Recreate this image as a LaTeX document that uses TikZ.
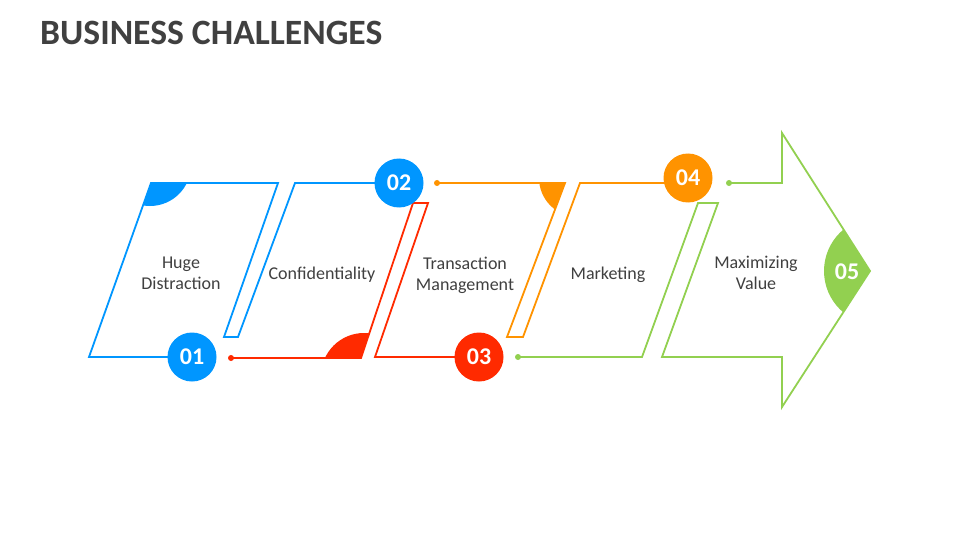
\documentclass[tikz,border=0pt]{standalone}
\usepackage{fontspec}
\setmainfont{Carlito}
\definecolor{cblue}{HTML}{0096FF}
\definecolor{cred}{HTML}{FF2A00}
\definecolor{corange}{HTML}{FF9300}
\definecolor{cgreen}{HTML}{92D050}
\definecolor{ctext}{HTML}{404040}
\tikzset{
  outline/.style={line width=1.8pt, line join=miter},
  numc/.style={circle, minimum size=49pt, inner sep=0pt, text=white,
    font=\fontsize{24}{24}\selectfont\bfseries},
  label/.style={text=ctext, align=center, font=\fontsize{18}{21}\selectfont},
  dotc/.style={circle, inner sep=0pt, minimum size=6pt}
}
\begin{document}
\begin{tikzpicture}[x=1pt,y=-1pt]
\useasboundingbox (0,0) rectangle (960,540);
\fill[white] (0,0) rectangle (960,540);

% title
\node[anchor=base west, text=ctext, inner sep=0pt,
  font=\fontsize{35.6}{42}\selectfont\bfseries] (title) at (40,45) {BUSINESS CHALLENGES};

% corner fills
\begin{scope}
  \clip (151,183) -- (260,183) -- (260,260) -- (123.6,260) -- cycle;
  \fill[cblue] (150,165) circle (41);
\end{scope}
\begin{scope}
  \clip (361,358) -- (413,203) -- (290,203) -- (290,358) -- cycle;
  \fill[cred] (364,376) circle (43);
\end{scope}
\begin{scope}
  \clip (565,183) -- (507,337) -- (480,337) -- (480,183) -- cycle;
  \fill[corange] (578,178) circle (39);
\end{scope}
\begin{scope}
  \clip (782,133) -- (870,271) -- (782,407) -- cycle;
  \fill[cgreen] (878,271) circle (54);
\end{scope}

% anchor coordinates for connectors
\coordinate (b1) at (192,357);
\coordinate (b2) at (399,183);
\coordinate (r3) at (479,357);
\coordinate (o4) at (670,183);

% dots
\node[dotc, fill=cred] (dr) at (231,358) {};
\node[dotc, fill=corange] (do) at (437,183) {};
\node[dotc, fill=cgreen] (dg1) at (518,357) {};
\node[dotc, fill=cgreen] (dg2) at (729,183) {};

% outlines
\draw[outline, cblue] (b1) -- (89,357) -- (151,183) -- (278,183) -- (224,337)
  -- (238,337) -- (295,183) -- (b2);
\draw[outline, cred] (dr.center) -- (361,358) -- (413,203) -- (428,203) -- (375,357) -- (r3);
\draw[outline, corange] (do.center) -- (565,183) -- (507,337) -- (523,337) -- (580,183) -- (o4);
\draw[outline, cgreen] (dg2.center) -- (782,183) -- (782,133) -- (870,271) -- (782,407)
  -- (782,357) -- (662,357) -- (718,203) -- (698,203) -- (642,357) -- (dg1.center);

% number circles
\node[numc, fill=cblue] (n01) at (b1) {01};
\node[numc, fill=cblue] (n02) at (b2) {02};
\node[numc, fill=cred] (n03) at (r3) {03};
\node[numc, fill=corange] (n04) at (688,178) {04};
\node[text=white, font=\fontsize{24}{24}\selectfont\bfseries, inner sep=0pt] (n05) at (847,272) {05};

% labels
\node[label] (t1) at (181,273) {Huge\\Distraction};
\node[label, anchor=base] (t2) at (322,279) {Confidentiality};
\node[label] (t3) at (465,275) {Transaction\\Management};
\node[label, anchor=base] (t4) at (608,279) {Marketing};
\node[label] (t5) at (756,273) {Maximizing\\Value};
\end{tikzpicture}
\end{document}
